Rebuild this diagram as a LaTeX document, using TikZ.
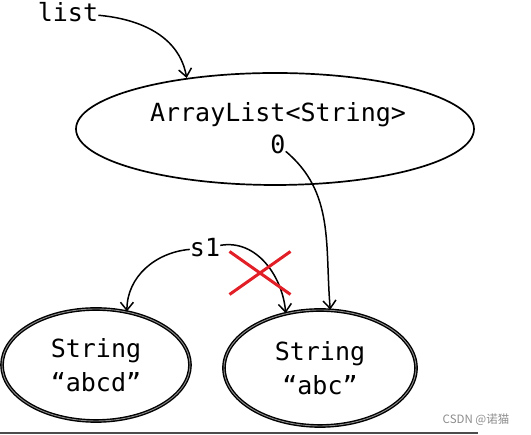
\documentclass[tikz,border=0pt]{standalone}
\usepackage{fontspec}
\newfontfamily\codefont{DejaVu Sans Mono}
\newfontfamily\cjkfont{Noto Sans CJK SC}
\usetikzlibrary{arrows.meta, shapes.geometric, shapes.misc}
\definecolor{crossred}{RGB}{226,30,38}

\begin{document}
\begin{tikzpicture}
        [x=1pt, y=1pt,
        code/.style={font=\codefont\fontsize{25}{34}\selectfont, inner sep=0pt},
        obj/.style={ellipse, draw=black, line width=1.7pt, inner sep=0pt},
        strobj/.style={ellipse, draw=black, double=black!45, line width=1.4pt, double distance=0.9pt, code, align=center},
        arr/.style={-{Straight Barb[length=8pt,width=13pt]}, line width=1.5pt}]
        \useasboundingbox (0,0) rectangle (531,435);
        \node (al) at (275,306) [obj, minimum width=398pt, minimum height=112pt] {};
        \node (altype) at (278,313) [code, anchor=base] {ArrayList<String>};
        \node (zero) at (278,281) [code, anchor=base] {0};
        \node (list) at (68,413) [code, anchor=base] {list}
           edge[arr, out=-5, in=100] (al.150);
        \node (sa) at (96,70) [strobj, minimum width=188pt, minimum height=112pt] {String\\“abcd”};
        \node (sb) at (320,67) [strobj, minimum width=192pt, minimum height=116pt] {String\\“abc”};
        \path (zero) edge[arr, out=-40, in=95] (sb.80);
        \node (s1) at (205,178) [code, anchor=base] {s1}
           edge[arr, out=185, in=90] (sa.60)
           edge[arr, out=10, in=95] (sb.122);
        \node (cross) at (260,162) [cross out, draw=crossred, line width=3pt, minimum width=58pt, minimum height=40pt] {};
        \node (mark) at (476,15) [font=\cjkfont\fontsize{11.5}{11.5}\selectfont, text=black!45] {CSDN @诺猫};
        \draw[black!70, line width=1.2pt] (0,2) -- (478,2);
\end{tikzpicture}
\end{document}
